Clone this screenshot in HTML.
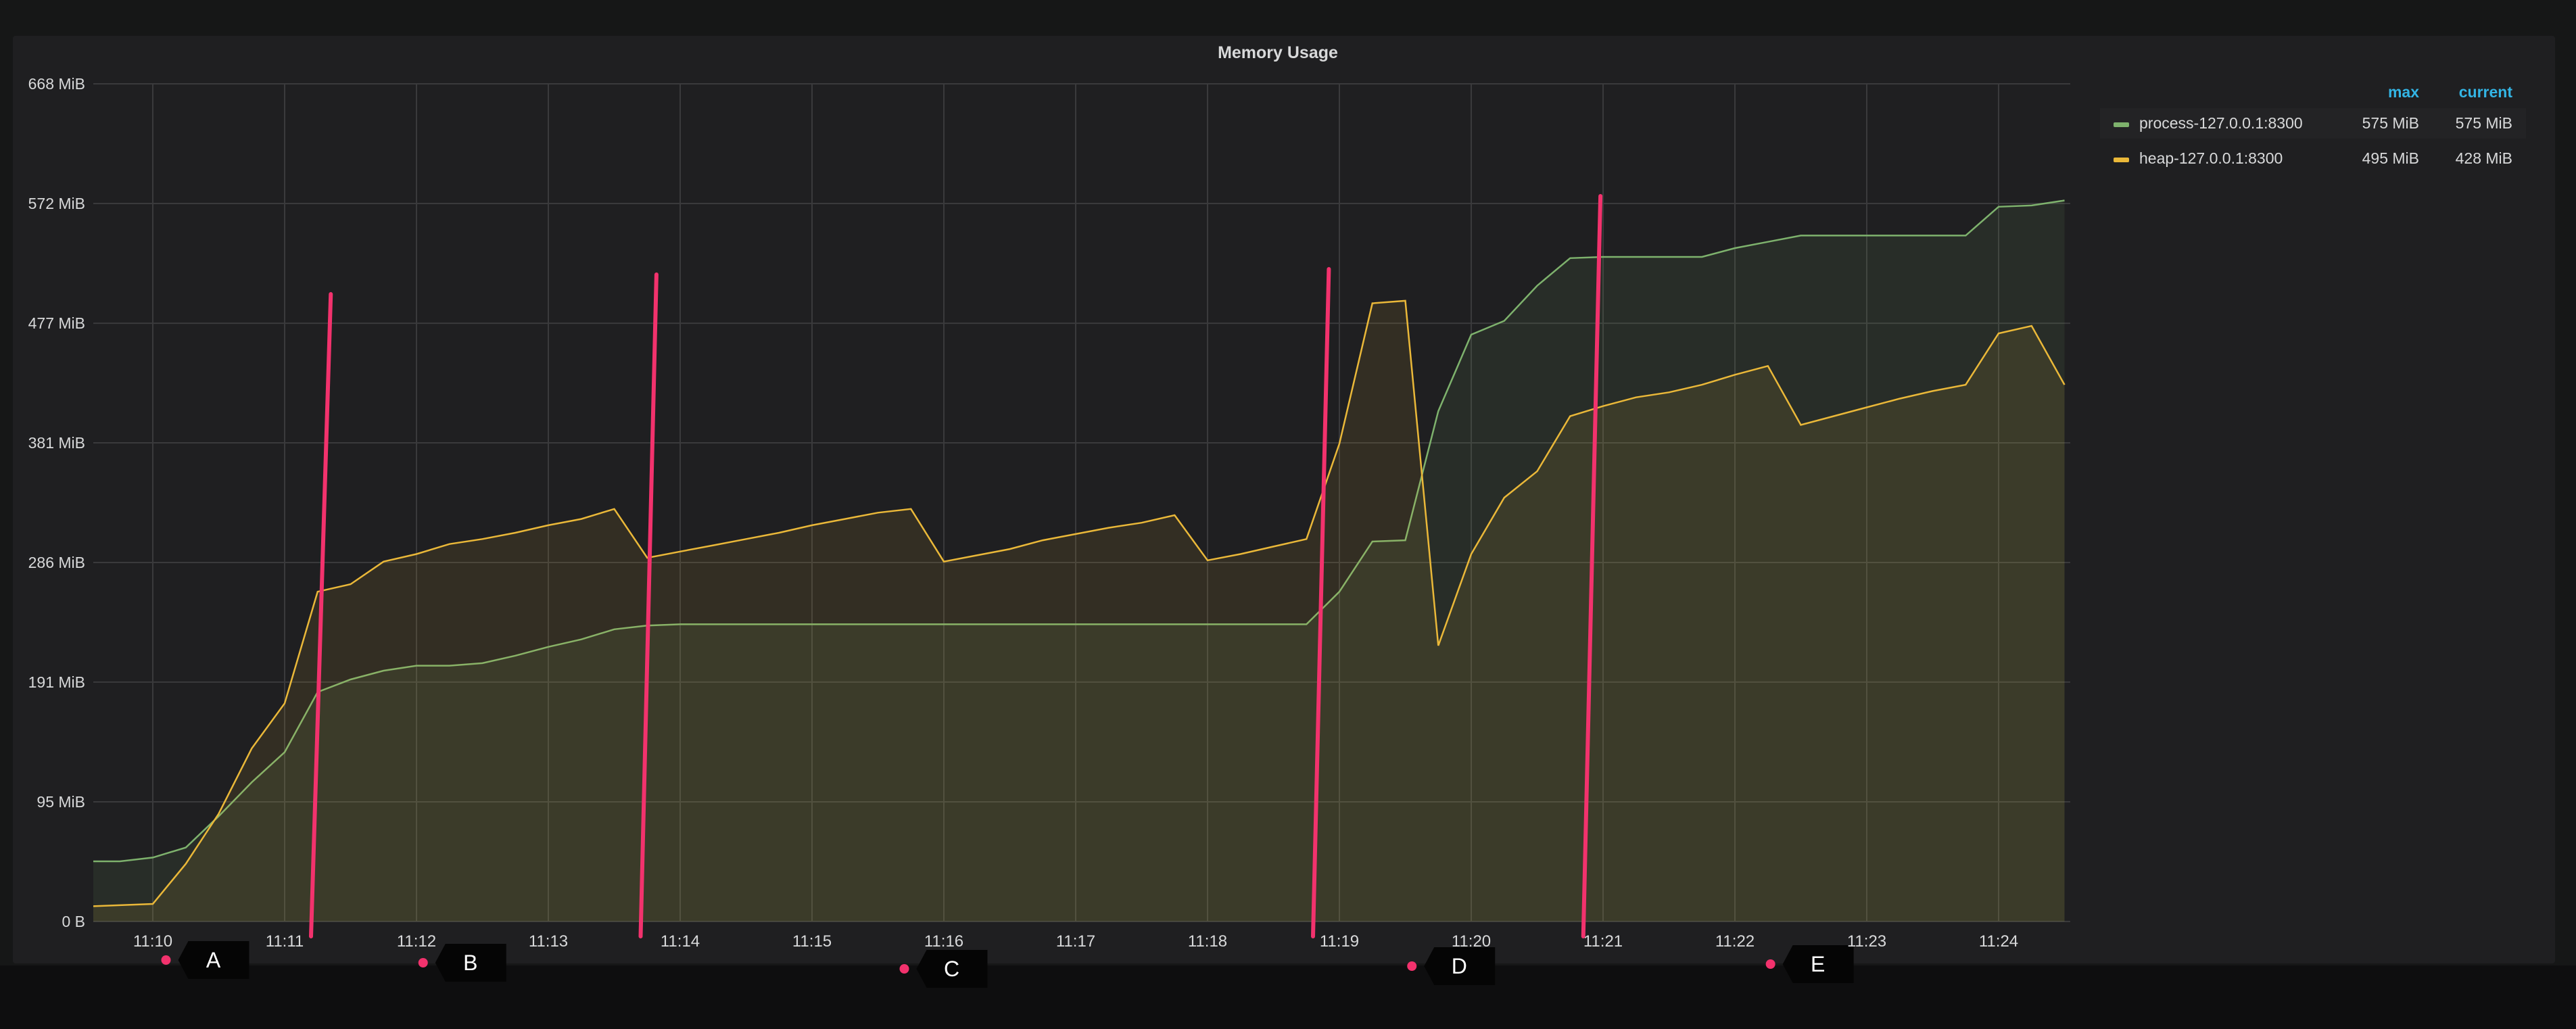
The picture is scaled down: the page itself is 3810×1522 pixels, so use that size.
<!DOCTYPE html>
<html><head><meta charset="utf-8">
<style>
html,body{margin:0;padding:0;background:#161717;width:3810px;height:1522px;overflow:hidden;font-family:"Liberation Sans",sans-serif;}
#bottom{position:absolute;left:0;top:1428px;width:3810px;height:94px;background:#0e0e0f;}
#panel{position:absolute;left:19px;top:53px;width:3760px;height:1372px;background:#1f1f21;border-radius:4px;}
</style></head><body>
<div id="bottom"></div>
<div id="panel"></div>
<svg id="chart" width="3810" height="1522" style="position:absolute;left:0;top:0">
<text x="1890" y="86" fill="#d8d9da" font-size="25" font-weight="bold" text-anchor="middle">Memory Usage</text>
<defs><clipPath id="clip"><rect x="138" y="100" width="2924" height="1264"/></clipPath></defs>
<g id="grid"></g>
<g id="series" clip-path="url(#clip)"></g>
<g id="annos"></g>
<g id="axes"></g>
<g id="legend">
  <text x="3578" y="144" fill="#33b5e5" font-size="23" font-weight="bold" text-anchor="end">max</text>
  <text x="3716" y="144" fill="#33b5e5" font-size="23" font-weight="bold" text-anchor="end">current</text>
  <rect x="3106" y="160" width="630" height="45" fill="#232325"/>
  <g>
    <rect x="3126" y="181" width="23" height="7" rx="2" fill="#7eb26d"/>
    <text x="3164" y="190" fill="#d8d9da" font-size="23">process-127.0.0.1:8300</text>
    <text x="3578" y="190" fill="#d8d9da" font-size="23" text-anchor="end">575 MiB</text>
    <text x="3716" y="190" fill="#d8d9da" font-size="23" text-anchor="end">575 MiB</text>
  </g>
  <g>
    <rect x="3126" y="233" width="23" height="7" rx="2" fill="#eab839"/>
    <text x="3164" y="242" fill="#d8d9da" font-size="23">heap-127.0.0.1:8300</text>
    <text x="3578" y="242" fill="#d8d9da" font-size="23" text-anchor="end">495 MiB</text>
    <text x="3716" y="242" fill="#d8d9da" font-size="23" text-anchor="end">428 MiB</text>
  </g>
</g>
</svg>
<script>
// data: time in minutes after 11:10, sampled every 15 s from 11:09:30
const startT = -0.5;
const stepT = 0.25;
const processMiB = [48,48,51,59,84,111,135,183,193,200,204,204,206,212,219,225,233,236,237,237,237,237,237,237,237,237,237,237,237,237,237,237,237,237,237,237,237,237,263,303,304,407,468,479,507,529,530,530,530,530,537,542,547,547,547,547,547,547,570,571,575];
const heapMiB = [12,13,14,46,86,138,174,263,269,287,293,301,305,310,316,321,329,290,295,300,305,310,316,321,326,329,287,292,297,304,309,314,318,324,288,293,299,305,381,493,495,220,293,338,359,403,411,418,422,428,436,443,396,403,410,417,423,428,469,475,428];
const yTickLabels = ["0 B","95 MiB","191 MiB","286 MiB","381 MiB","477 MiB","572 MiB","668 MiB"];
const yTickValues = [0,95.4,190.9,286.3,381.7,477.1,572.6,668];
const xTickLabels = ["11:10","11:11","11:12","11:13","11:14","11:15","11:16","11:17","11:18","11:19","11:20","11:21","11:22","11:23","11:24"];
const xTickValues = [0,1,2,3,4,5,6,7,8,9,10,11,12,13,14];
const annoLabels = ["A","B","C","D","E"];
const annoTimes = [0.1,2.05,5.7,9.55,12.27];
const regionStarts = [1.2,3.7,8.8,10.85];
const regionEnds = [1.35,3.82,8.92,10.98];

const NS = "http://www.w3.org/2000/svg";
const X0 = 138, X1 = 3062, Y0 = 1363, YT = 124, VMAX = 668;
const xs = t => 226 + 195 * t;
const ys = v => Y0 - v * (Y0 - YT) / VMAX;
function mk(tag, attrs, parent){const e=document.createElementNS(NS,tag);for(const k in attrs)e.setAttribute(k,attrs[k]);parent.appendChild(e);return e;}
const grid = document.getElementById('grid'), axes = document.getElementById('axes'), series = document.getElementById('series'), annos = document.getElementById('annos');

yTickValues.forEach((v,i)=>{
  const l = mk('line',{x1:X0,x2:X1,y1:ys(v),y2:ys(v),stroke:'#3a3a3c','stroke-width':2},grid);
  
  
  const t = mk('text',{x:126,y:ys(v)+8,fill:'#d8d9da','font-size':23,'text-anchor':'end'},axes);
  t.textContent = yTickLabels[i];
  
  
});
xTickValues.forEach((v,i)=>{
  const l = mk('line',{x1:xs(v),x2:xs(v),y1:YT,y2:Y0,stroke:'#3a3a3c','stroke-width':2},grid);
  
  
  const t = mk('text',{x:xs(v),y:1400,fill:'#d8d9da','font-size':24,'text-anchor':'middle'},axes);
  t.textContent = xTickLabels[i];
  
  
});

function drawSeries(vals,color,name){
  const pts = vals.map((v,i)=>[xs(startT+i*stepT),ys(v)]);
  const line = pts.map(p=>p[0].toFixed(1)+','+p[1].toFixed(1)).join(' ');
  const area = mk('polygon',{points:pts[0][0]+','+Y0+' '+line+' '+pts[pts.length-1][0]+','+Y0,fill:color,'fill-opacity':0.1},series);
  
  
  const pl = mk('polyline',{points:line,fill:'none',stroke:color,'stroke-width':2.5},series);
  
  
}
drawSeries(processMiB,'#7eb26d','process-series');
drawSeries(heapMiB,'#eab839','heap-series');

const regionTopY = [435,406,398,290];
regionStarts.forEach((s,i)=>{
  const l = mk('line',{x1:xs(regionEnds[i]),y1:regionTopY[i],x2:xs(s),y2:1385,stroke:'#f2326d','stroke-width':6,'stroke-linecap':'round'},annos);
  
  
});
const annoY = [1420,1424,1433,1429,1426];
annoTimes.forEach((t,i)=>{
  const cx = xs(t), cy = annoY[i];
  const d = mk('circle',{cx:cx,cy:cy,r:7,fill:'#f2326d'},annos);
  
  
  const x = cx+18;
  const tag = mk('polygon',{points:`${x},${cy} ${x+15},${cy-28} ${x+105},${cy-28} ${x+105},${cy+28} ${x+15},${cy+28}`,fill:'#050505'},annos);
  
  
  const tx = mk('text',{x:x+52,y:cy+11,fill:'#ffffff','font-size':32,'text-anchor':'middle'},annos);
  tx.textContent = annoLabels[i];
  
  
});
</script>
</body></html>
